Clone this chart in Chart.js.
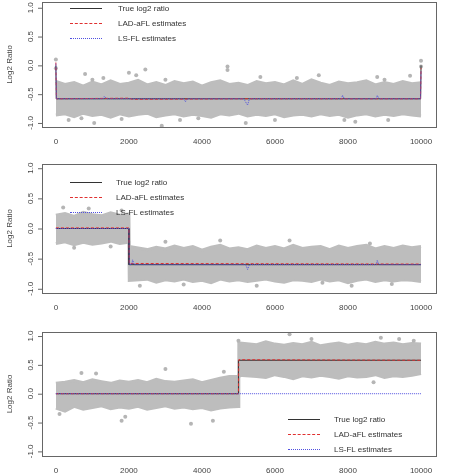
<!DOCTYPE html>
<html><head><meta charset="utf-8">
<script src="https://cdn.jsdelivr.net/npm/chart.js@4/dist/chart.umd.min.js"></script>
<style>
body{margin:0;background:#fff;width:474px;height:474px;position:relative;overflow:hidden;font-family:"Liberation Sans",Arial,sans-serif}
.p{position:absolute;left:0;width:474px}
.leg{position:absolute;font-size:8px;color:#333;white-space:nowrap}
.leg div{position:relative;height:15px;line-height:15px;width:150px}
.leg span.l{position:absolute;top:7px;width:32px;height:0;left:0}
.leg span.t{position:absolute;white-space:nowrap}
</style></head><body>
<div class="p" style="top:-2px;height:153px"><canvas id="c1"></canvas></div>
<div class="p" style="top:160px;height:157px"><canvas id="c2"></canvas></div>
<div class="p" style="top:328px;height:152px"><canvas id="c3"></canvas></div>
<script>
const xTicks=[0,2000,4000,6000,8000,10000];
const yTicks=[-1.0,-0.5,0.0,0.5,1.0];
const bandX=[0,250,500,750,1000,1250,1500,1750,2000,2250,2500,2750,3000,3250,3500,3750,4000,4250,4500,4750,5000,5250,5500,5750,6000,6250,6500,6750,7000,7250,7500,7750,8000,8250,8500,8750,9000,9250,9500,9750,10000];
const p2BandX=[0,250,500,750,1000,1250,1500,1750,2000,2010,2500,2750,3000,3250,3500,3750,4000,4250,4500,4750,5000,5250,5500,5750,6000,6250,6500,6750,7000,7250,7500,7750,8000,8250,8500,8750,9000,9250,9500,9750,10000];
const p3BandX=[0,250,500,750,1000,1250,1500,1750,2000,2250,2500,2750,3000,3250,3500,3750,4000,4250,4500,4750,5000,5010,5500,5750,6000,6250,6500,6750,7000,7250,7500,7750,8000,8250,8500,8750,9000,9250,9500,9750,10000];
// panel 1
const p1Upper=[-0.28,-0.33,-0.3,-0.36,-0.29,-0.34,-0.27,-0.33,-0.31,-0.26,-0.34,-0.3,-0.35,-0.28,-0.32,-0.29,-0.36,-0.3,-0.27,-0.33,-0.31,-0.35,-0.28,-0.32,-0.3,-0.34,-0.27,-0.33,-0.25,-0.31,-0.35,-0.29,-0.32,-0.3,-0.27,-0.34,-0.3,-0.33,-0.28,-0.32,-0.3];
const p1Lower=[-0.86,-0.84,-0.89,-0.83,-0.87,-0.85,-0.9,-0.84,-0.88,-0.85,-0.83,-0.89,-0.86,-0.84,-0.88,-0.85,-0.87,-0.9,-0.84,-0.86,-0.83,-0.88,-0.85,-0.87,-0.84,-0.89,-0.86,-0.85,-0.88,-0.84,-0.87,-0.85,-0.9,-0.86,-0.84,-0.88,-0.85,-0.87,-0.84,-0.86,-0.88];
const p1Out=[[0,0.1],[0,-0.05],[350,-0.95],[700,-0.92],[800,-0.15],[1000,-0.25],[1050,-1.0],[1300,-0.22],[1800,-0.93],[2000,-0.13],[2200,-0.17],[2450,-0.07],[2900,-1.05],[3000,-0.25],[3400,-0.95],[3900,-0.92],[4700,-0.02],[4700,-0.08],[5200,-1.0],[5600,-0.2],[6000,-0.95],[6600,-0.22],[7200,-0.17],[7900,-0.95],[8200,-0.98],[8800,-0.2],[9000,-0.25],[9100,-0.95],[9700,-0.18],[10000,0.08],[10000,-0.02]];
const p1True=[[0,0.0],[10,-0.58],[9990,-0.58],[10000,0.0]];
const p1Lad=[[0,0.05],[15,-0.58],[2000,-0.57],[2100,-0.59],[5000,-0.58],[9985,-0.58],[10000,-0.05]];
const p1Ls=[[0,0.03],[15,-0.58],[1300,-0.58],[1320,-0.54],[1400,-0.58],[3500,-0.58],[3550,-0.63],[3600,-0.58],[5150,-0.58],[5200,-0.64],[5250,-0.69],[5300,-0.58],[7820,-0.58],[7850,-0.52],[7900,-0.58],[8780,-0.58],[8800,-0.52],[8850,-0.58],[9985,-0.58],[10000,-0.1]];
// panel 2
const p2Upper=[0.22,0.25,0.2,0.27,0.23,0.21,0.26,0.22,0.24,-0.3,-0.35,-0.31,-0.34,-0.29,-0.33,-0.3,-0.36,-0.31,-0.28,-0.34,-0.32,-0.35,-0.29,-0.33,-0.3,-0.34,-0.28,-0.33,-0.31,-0.3,-0.35,-0.29,-0.33,-0.3,-0.28,-0.34,-0.3,-0.33,-0.29,-0.32,-0.3];
const p2Lower=[-0.25,-0.22,-0.27,-0.23,-0.26,-0.24,-0.21,-0.25,-0.23,-0.86,-0.84,-0.89,-0.85,-0.87,-0.84,-0.88,-0.86,-0.9,-0.84,-0.87,-0.85,-0.88,-0.86,-0.84,-0.87,-0.89,-0.85,-0.86,-0.88,-0.84,-0.87,-0.85,-0.9,-0.86,-0.84,-0.88,-0.85,-0.87,-0.85,-0.86,-0.88];
const p2Out=[[200,0.35],[500,-0.32],[900,0.33],[1500,-0.3],[1800,0.3],[2300,-0.95],[3000,-0.22],[3500,-0.93],[4500,-0.2],[5500,-0.95],[6400,-0.2],[7300,-0.9],[8100,-0.95],[8600,-0.25],[9200,-0.92]];
const p2True=[[0,0],[2000,0],[2000,-0.6],[10000,-0.6]];
const p2Lad=[[0,0.01],[2000,0.01],[2010,-0.58],[10000,-0.59]];
const p2Ls=[[0,0.0],[2000,0.0],[2010,-0.6],[2080,-0.6],[2100,-0.52],[2150,-0.6],[5200,-0.6],[5250,-0.68],[5300,-0.6],[8780,-0.6],[8800,-0.53],[8850,-0.6],[10000,-0.6]];
// panel 3
const p3Upper=[0.18,0.2,0.23,0.19,0.24,0.21,0.18,0.22,0.2,0.23,0.19,0.25,0.21,0.2,0.22,0.24,0.19,0.23,0.27,0.3,0.3,0.88,0.85,0.9,0.86,0.84,0.87,0.85,0.89,0.83,0.86,0.88,0.84,0.87,0.85,0.89,0.86,0.88,0.85,0.87,0.86];
const p3Lower=[-0.25,-0.3,-0.22,-0.27,-0.24,-0.21,-0.26,-0.23,-0.25,-0.22,-0.27,-0.24,-0.21,-0.25,-0.23,-0.26,-0.24,-0.28,-0.25,-0.23,-0.22,0.32,0.3,0.28,0.33,0.3,0.26,0.31,0.29,0.32,0.3,0.27,0.31,0.29,0.3,0.33,0.28,0.31,0.3,0.32,0.35];
const p3Out=[[100,-0.35],[700,0.36],[1100,0.35],[1800,-0.47],[1900,-0.4],[3000,0.43],[3700,-0.52],[4300,-0.47],[4600,0.38],[5000,0.92],[6400,1.03],[7000,0.95],[8700,0.2],[8900,0.97],[9400,0.95],[9800,0.92]];
const p3True=[[0,0],[5000,0],[5000,0.58],[10000,0.58]];
const p3Lad=[[0,0.0],[5000,0.0],[5010,0.59],[10000,0.58]];
const p3Ls=[[0,0],[10000,0]];

const frame={id:'frame',afterDraw(c){const a=c.chartArea,x=c.ctx;x.save();x.strokeStyle='#666';x.lineWidth=1;x.strokeRect(a.left+0.5,a.top+0.5,a.width,a.height);
 const ys=c.scales.y;x.fillStyle='#444';x.font='8px "Liberation Sans"';x.textAlign='center';
 yTicks.forEach(v=>{const py=ys.getPixelForValue(v);x.beginPath();x.moveTo(a.left,py+0.5);x.lineTo(a.left-4,py+0.5);x.stroke();
  x.save();x.translate(a.left-9,py);x.rotate(-Math.PI/2);x.fillText(v.toFixed(1),0,0);x.restore();});
 x.save();x.translate(12,(a.top+a.bottom)/2);x.rotate(-Math.PI/2);x.fillText('Log2 Ratio',0,0);x.restore();
 x.restore();}};
function make(id,bx,up,lo,out,tr,lad,ls,ymin,ymax){
 const band=(arr)=>bx.map((v,i)=>({x:v,y:arr[i]}));
 const pts=a=>a.map(p=>({x:p[0],y:p[1]}));
 new Chart(document.getElementById(id),{type:'scatter',
  data:{datasets:[
   {data:band(lo),showLine:true,pointRadius:0,borderColor:'#bdbdbd',borderWidth:3,fill:false,order:5},
   {data:band(up),showLine:true,pointRadius:0,borderColor:'#bdbdbd',borderWidth:3,backgroundColor:'#bdbdbd',fill:'-1',order:4},
   {data:pts(out),pointRadius:2,pointBackgroundColor:'#b5b5b5',pointBorderWidth:0,order:3},
   {data:pts(tr),showLine:true,pointRadius:0,borderColor:'#333',borderWidth:1,order:2},
   {data:pts(lad),showLine:true,pointRadius:0,borderColor:'#e03030',borderDash:[3,2],borderWidth:1,order:1},
   {data:pts(ls),showLine:true,pointRadius:0,borderColor:'#5050e0',borderDash:[1,1],borderWidth:1,order:0}
  ]},
  options:{responsive:true,maintainAspectRatio:false,animation:false,
   layout:{padding:{left:0,right:38,top:0,bottom:0}},
   plugins:{legend:{display:false},tooltip:{enabled:false}},
   scales:{
    x:{type:'linear',min:-380,max:10410,afterBuildTicks(s){s.ticks=xTicks.map(v=>({value:v}));},
       grid:{display:false,drawTicks:true,tickLength:4,tickColor:'#666'},border:{color:'#666'},
       ticks:{color:'#444',font:{size:8,family:'Liberation Sans'},maxRotation:0,padding:6,callback:v=>String(v)},afterFit(s){s.height=24;}},
    y:{min:ymin,max:ymax,afterBuildTicks(s){s.ticks=yTicks.map(v=>({value:v}));},
       grid:{display:false},border:{color:'#666'},ticks:{display:false},afterFit(s){s.width=42;}}
   }},plugins:[frame]});
}
make('c1',bandX,p1Upper,p1Lower,p1Out,p1True,p1Lad,p1Ls,-1.07,1.1);
make('c2',p2BandX,p2Upper,p2Lower,p2Out,p2True,p2Lad,p2Ls,-1.07,1.07);
make('c3',p3BandX,p3Upper,p3Lower,p3Out,p3True,p3Lad,p3Ls,-1.08,1.07);
</script>
<div class="leg" style="left:70px;top:1px">
 <div><span class="l" style="border-top:1px solid #333"></span><span class="t" style="left:48px">True log2 ratio</span></div>
 <div><span class="l" style="border-top:1px dashed #e03030"></span><span class="t" style="left:48px">LAD-aFL estimates</span></div>
 <div><span class="l" style="border-top:1px dotted #5050e0"></span><span class="t" style="left:48px">LS-FL estimates</span></div>
</div>
<div class="leg" style="left:70px;top:175px">
 <div><span class="l" style="border-top:1px solid #333"></span><span class="t" style="left:46px">True log2 ratio</span></div>
 <div><span class="l" style="border-top:1px dashed #e03030"></span><span class="t" style="left:46px">LAD-aFL estimates</span></div>
 <div><span class="l" style="border-top:1px dotted #5050e0"></span><span class="t" style="left:46px">LS-FL estimates</span></div>
</div>
<div class="leg" style="left:288px;top:412px">
 <div><span class="l" style="border-top:1px solid #333"></span><span class="t" style="left:46px">True log2 ratio</span></div>
 <div><span class="l" style="border-top:1px dashed #e03030"></span><span class="t" style="left:46px">LAD-aFL estimates</span></div>
 <div><span class="l" style="border-top:1px dotted #5050e0"></span><span class="t" style="left:46px">LS-FL estimates</span></div>
</div>
</body></html>
